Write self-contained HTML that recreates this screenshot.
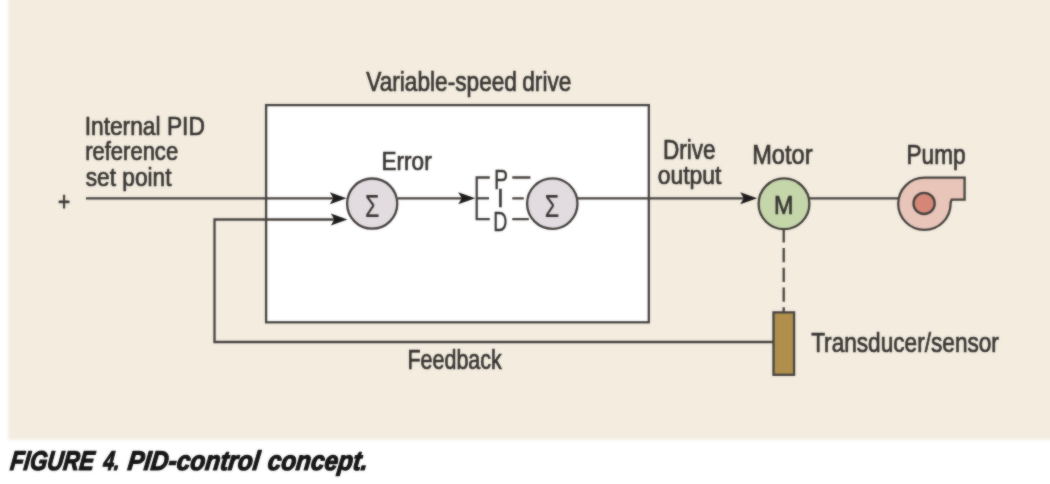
<!DOCTYPE html>
<html lang="en">
<head>
<meta charset="utf-8">
<title>FIGURE 4. PID-control concept.</title>
<style>
html,body{margin:0;padding:0;background:#ffffff;}
body{width:1050px;height:484px;overflow:hidden;position:relative;}
svg{position:absolute;left:0;top:0;display:block;}
text{font-family:"Liberation Sans",sans-serif;fill:#363331;stroke:#363331;stroke-width:0.7px;stroke-linejoin:round;}
text.sg{stroke-width:0.15px;}
text.pl{stroke-width:0.9px;}
text.ws{word-spacing:-1.2px;}
text.th{stroke-width:0.35px;}
text.nofit{stroke-width:0.3px;}
text.cap{font-weight:bold;font-style:italic;fill:#141414;stroke:#141414;stroke-width:1.2px;}
.ln{stroke:#45413e;stroke-width:2.3;fill:none;}
.ar{fill:#1d1b1a;}
.sh{stroke:#45413e;stroke-width:2.3;}
</style>
</head>
<body>
<svg width="1050" height="484" viewBox="0 0 1050 484">
<defs><filter id="soft" filterUnits="userSpaceOnUse" x="-20" y="-20" width="1100" height="530" color-interpolation-filters="sRGB"><feGaussianBlur stdDeviation="1" result="b"/><feComposite in="SourceGraphic" in2="b" operator="arithmetic" k1="0" k2="0.5" k3="0.5" k4="0"/></filter><filter id="bgsoft" filterUnits="userSpaceOnUse" x="-20" y="-20" width="1100" height="530" color-interpolation-filters="sRGB"><feGaussianBlur stdDeviation="1.5"/></filter></defs>
<rect x="-20" y="-20" width="1100" height="530" fill="#ffffff"/>
<rect x="8.3" y="-20" width="1070" height="459.7" fill="#f3ecdf" filter="url(#bgsoft)"/>
<g filter="url(#soft)">
  <rect x="266.1" y="105.1" width="382.7" height="217.2" fill="#ffffff" class="sh"/>
  <path class="ln" d="M86 198.3H340"/>
  <path class="ln" d="M773 342H214.5V219.5H340"/>
  <path class="ln" d="M398 198.3H470"/>
  <path class="ln" d="M489.8 177.5H476.7V219.2H489.8"/>
  <path class="ln" d="M476.7 198.3H489"/>
  <path class="ln" d="M512.3 177.5H530.4M512.3 198.3H523.8M512.3 219.2H528.8"/>
  <path class="ln" d="M578 198.3H750"/>
  <path class="ln" d="M809 198.3H898"/>
  <path class="ln" d="M783.7 230V312" stroke-dasharray="14.2 5.5" stroke-dashoffset="1.6"/>
  <path class="ar" d="M346.4 198.3L329.8 192.3L333.4 198.3L329.8 204.3Z"/>
  <path class="ar" d="M347.4 219.5L330.8 213.5L334.4 219.5L330.8 225.5Z"/>
  <path class="ar" d="M475.3 198.3L458.2 192.3L461.8 198.3L458.2 204.3Z"/>
  <path class="ar" d="M757.2 198.3L740.2 192.3L743.8 198.3L740.2 204.3Z"/>
  <circle cx="372.2" cy="203.6" r="25.1" fill="#e2dce0" class="sh"/>
  <circle cx="552.3" cy="203.6" r="25.2" fill="#e2dce0" class="sh"/>
  <circle cx="784.0" cy="203.8" r="25.4" fill="#c5d6aa" class="sh"/>
  <path d="M924.4 177.7H964.6V199.7H951.6C950.9 201.1 950.6 202.4 950.6 203.8A26.2 26.1 0 1 1 924.4 177.7Z" fill="#e9c5b9" class="sh" stroke-linejoin="miter"/>
  <circle cx="924.1" cy="203.4" r="10.6" fill="#d68676" class="sh"/>
  <rect x="773.5" y="312.4" width="20.6" height="62.4" fill="#b08f4d" class="sh"/>
  <text id="t0" class="ws" x="366.25" y="90.90" font-size="27.2" textLength="205.10" lengthAdjust="spacingAndGlyphs">Variable-speed drive</text>
  <text id="t1" x="84.65" y="134.80" font-size="26" textLength="120.25" lengthAdjust="spacingAndGlyphs">Internal PID</text>
  <text id="t2" x="85.15" y="160.40" font-size="26" textLength="92.98" lengthAdjust="spacingAndGlyphs">reference</text>
  <text id="t3" x="85.75" y="185.60" font-size="26" textLength="85.70" lengthAdjust="spacingAndGlyphs">set point</text>
  <text id="t4" x="381.50" y="170.20" font-size="26" textLength="50.15" lengthAdjust="spacingAndGlyphs">Error</text>
  <text id="t5" x="662.90" y="159.40" font-size="27" textLength="52.69" lengthAdjust="spacingAndGlyphs">Drive</text>
  <text id="t6" x="657.65" y="184.30" font-size="26.5" textLength="63.76" lengthAdjust="spacingAndGlyphs">output</text>
  <text id="t7" x="752.20" y="164.30" font-size="26.8" textLength="60.34" lengthAdjust="spacingAndGlyphs">Motor</text>
  <text id="t8" x="906.50" y="164.20" font-size="27" textLength="59.07" lengthAdjust="spacingAndGlyphs">Pump</text>
  <text id="t9" x="407.50" y="369.20" font-size="27.2" textLength="94.27" lengthAdjust="spacingAndGlyphs">Feedback</text>
  <text id="t10" x="811.15" y="352.40" font-size="26.8" textLength="187.75" lengthAdjust="spacingAndGlyphs">Transducer/sensor</text>
  <text id="t11" class="th" x="494.00" y="188.60" font-size="27.8" textLength="14.10" lengthAdjust="spacingAndGlyphs">P</text>
  <text id="t12" class="nofit" x="496.75" y="207.40" font-size="26.3">I</text>
  <text id="t13" class="th" x="493.30" y="230.50" font-size="27.8" textLength="14.16" lengthAdjust="spacingAndGlyphs">D</text>
  <text id="t14" x="774.10" y="213.60" font-size="26" textLength="19.38" lengthAdjust="spacingAndGlyphs">M</text>
  <text id="t15" class="pl" x="58.05" y="209.50" font-size="26" textLength="12.11" lengthAdjust="spacingAndGlyphs">+</text>
  <text id="t16" class="sg" x="364.95" y="216.60" font-size="31" textLength="14.42" lengthAdjust="spacingAndGlyphs">Σ</text>
  <text id="t17" class="sg" x="544.75" y="216.60" font-size="31" textLength="14.42" lengthAdjust="spacingAndGlyphs">Σ</text>
  <text id="t18" class="cap" transform="matrix(1 0 -0.12 1 56.46 0)" x="9.50" y="470.50" font-size="27.2" textLength="83.92" lengthAdjust="spacingAndGlyphs">FIGURE</text>
  <text id="t19" class="cap" transform="matrix(1 0 -0.12 1 56.46 0)" x="102.75" y="470.50" font-size="27.2" textLength="16.12" lengthAdjust="spacingAndGlyphs">4.</text>
  <text id="t20" class="cap" transform="matrix(1 0 -0.12 1 56.46 0)" x="127.00" y="470.50" font-size="27.2" textLength="131.83" lengthAdjust="spacingAndGlyphs">PID-control</text>
  <text id="t21" class="cap" transform="matrix(1 0 -0.12 1 56.46 0)" x="266.95" y="470.50" font-size="27.2" textLength="100.08" lengthAdjust="spacingAndGlyphs">concept.</text>
</g>
</svg>
</body>
</html>
